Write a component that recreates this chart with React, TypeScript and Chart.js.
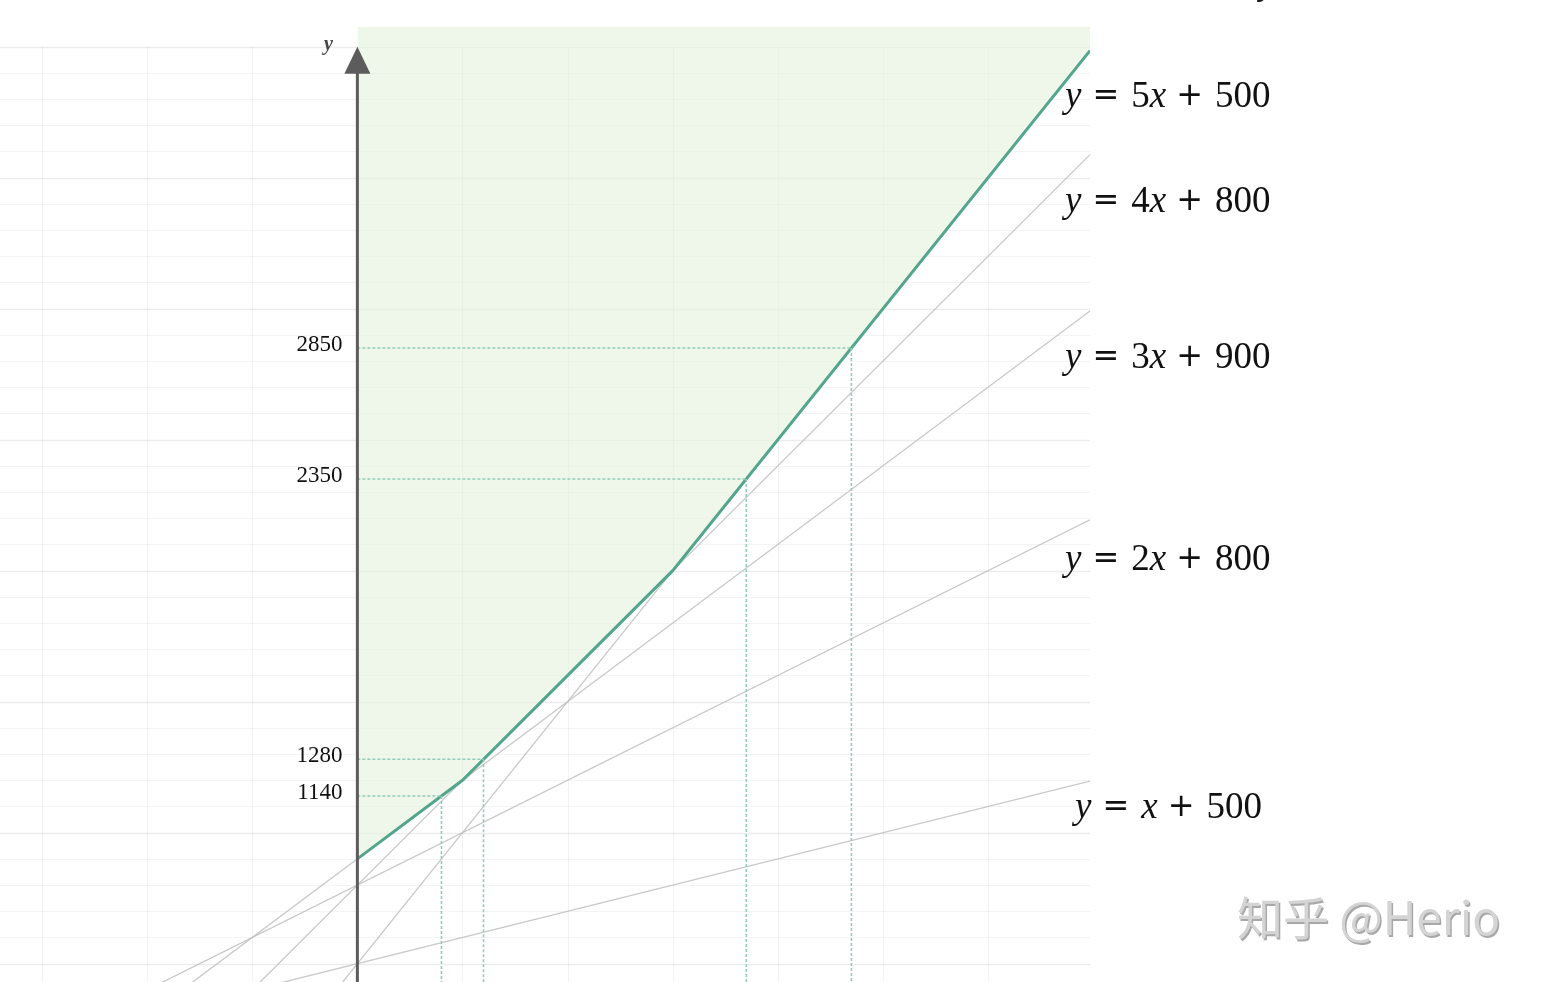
import React, { useEffect, useRef } from "react";
import { Chart, registerables } from "chart.js";

Chart.register(...registerables);

// ---- data ----
const X_MIN = -340;
const X_MAX = 697;
const Y_MIN = 430;
const Y_MAX = 4075;

const slopes = [5, 4, 3, 2, 1];
const intercepts = [500, 800, 900, 800, 500];
const lineLabels = ["5x", "4x", "3x", "2x", "x"];
const labelConsts = ["500", "800", "900", "800", "500"];

const envelopeX = [0, 100, 300, 697];
const envelopeY = [900, 1200, 2000, 3985];

const markX = [80, 120, 370, 470];
const markY = [1140, 1280, 2350, 2850];
const tickLabels = ["1140", "1280", "2350", "2850"];

const xGrid = [-300, -200, -100, 0, 100, 200, 300, 400, 500, 600];
const yGrid = [
  500, 600, 700, 800, 900, 1000, 1100, 1200, 1300, 1400, 1500, 1600, 1700, 1800, 1900, 2000,
  2100, 2200, 2300, 2400, 2500, 2600, 2700, 2800, 2900, 3000, 3100, 3200, 3300, 3400, 3500,
  3600, 3700, 3800, 3900, 4000,
];
const yGridTop = 4000;

// label vertical centres (pixel rows in the 982-tall picture) and left edges
const labelRows = [97, 202, 358, 560, 808];
const labelLefts = [1065, 1065, 1065, 1065, 1075];

const TEAL = "#53a68c";
const GRAY = "rgba(190,190,190,0.85)";
const REF = "#93cdb8";

const gridPlugin = {
  id: "bgGrid",
  beforeDatasetsDraw(chart: any) {
    const { ctx, scales, chartArea } = chart;
    const xs = scales.x;
    const ys = scales.y;
    ctx.save();
    const top = ys.getPixelForValue(yGridTop);
    ctx.lineWidth = 1;
    for (const v of xGrid) {
      const px = Math.round(xs.getPixelForValue(v)) + 0.5;
      ctx.strokeStyle = "rgba(0,0,0,0.05)";
      ctx.beginPath();
      ctx.moveTo(px, top);
      ctx.lineTo(px, chartArea.bottom);
      ctx.stroke();
    }
    for (const v of yGrid) {
      const py = Math.round(ys.getPixelForValue(v)) + 0.5;
      ctx.strokeStyle = v % 500 === 0 ? "rgba(0,0,0,0.075)" : "rgba(0,0,0,0.045)";
      ctx.lineWidth = v % 500 === 0 ? 1.5 : 1;
      ctx.beginPath();
      ctx.moveTo(chartArea.left, py);
      ctx.lineTo(chartArea.right, py);
      ctx.stroke();
    }
    ctx.restore();
  },
};

function drawEq(ctx: CanvasRenderingContext2D, left: number, cy: number, coef: string, cst: string) {
  const size = 37;
  const it = `italic ${size}px "Liberation Serif", "DejaVu Serif", serif`;
  const rm = `${size}px "Liberation Serif", "DejaVu Serif", serif`;
  const op = `32px "DejaVu Sans", sans-serif`;
  ctx.textBaseline = "middle";
  ctx.fillStyle = "#111";
  let x = left;
  const put = (t: string, f: string, gap: number) => {
    ctx.font = f;
    ctx.fillText(t, x, cy);
    x += ctx.measureText(t).width + gap;
  };
  put("y", it, 11);
  put("=", op, 12);
  const num = coef.replace("x", "");
  if (num) put(num, rm, 0);
  put("x", it, 10);
  put("+", op, 12);
  put(cst, rm, 0);
}

const overlayPlugin = {
  id: "overlay",
  afterDatasetsDraw(chart: any) {
    const { ctx, scales, chartArea } = chart;
    const xs = scales.x;
    const ys = scales.y;
    ctx.save();
    // y axis with arrow
    const ax = xs.getPixelForValue(0);
    const tip = ys.getPixelForValue(yGridTop);
    ctx.strokeStyle = "#5c5c5c";
    ctx.fillStyle = "#5c5c5c";
    ctx.lineWidth = 3;
    ctx.beginPath();
    ctx.moveTo(ax, chartArea.bottom);
    ctx.lineTo(ax, tip + 20);
    ctx.stroke();
    ctx.beginPath();
    ctx.moveTo(ax, tip);
    ctx.lineTo(ax - 13, tip + 27);
    ctx.lineTo(ax + 13, tip + 27);
    ctx.closePath();
    ctx.fill();
    // axis name
    ctx.font = 'italic bold 20px "Liberation Serif", "DejaVu Serif", serif';
    ctx.fillStyle = "#444";
    ctx.textAlign = "center";
    ctx.textBaseline = "middle";
    ctx.fillText("y", ax - 29, tip - 2);
    // tick labels
    ctx.font = '23px "Liberation Serif", "DejaVu Serif", serif';
    ctx.fillStyle = "#111";
    ctx.textAlign = "right";
    for (let i = 0; i < markY.length; i++) {
      ctx.fillText(tickLabels[i], ax - 15, ys.getPixelForValue(markY[i]) - 3);
    }
    // equation labels
    ctx.textAlign = "left";
    for (let i = 0; i < slopes.length; i++) {
      drawEq(ctx, labelLefts[i], labelRows[i], lineLabels[i], labelConsts[i]);
    }
    // clipped glyph at the very top
    ctx.font = 'italic 37px "Liberation Serif", "DejaVu Serif", serif';
    ctx.textBaseline = "alphabetic";
    ctx.fillStyle = "#1a1a1a";
    ctx.fillText("y", 1260, -6);
    // watermark
    ctx.font = '46px "Noto Sans CJK SC", "Noto Sans", sans-serif';
    ctx.textAlign = "left";
    ctx.textBaseline = "middle";
    ctx.shadowColor = "rgba(110,110,110,0.6)";
    ctx.shadowOffsetX = 1.5;
    ctx.shadowOffsetY = 1.5;
    ctx.shadowBlur = 0;
    ctx.fillStyle = "rgba(212,212,212,1)";
    ctx.fillText("知乎 @Herio", 1237, 918);
    ctx.restore();
  },
};

export default function App() {
  const ref = useRef<HTMLCanvasElement | null>(null);

  useEffect(() => {
    document.body.style.margin = "0";
    const canvas = ref.current;
    if (!canvas) return;

    const datasets: any[] = [];

    // shaded feasible region (above the upper envelope)
    datasets.push({
      label: "envelope",
      data: envelopeX.map((x, i) => ({ x, y: envelopeY[i] })),
      borderColor: TEAL,
      borderWidth: 3,
      backgroundColor: "rgba(226,242,220,0.6)",
      fill: "end",
      pointRadius: 0,
      tension: 0,
      order: 0,
    });

    // the five straight lines
    for (let i = 0; i < slopes.length; i++) {
      datasets.push({
        label: `y = ${lineLabels[i]} + ${labelConsts[i]}`,
        data: [X_MIN, X_MAX].map((x) => ({ x, y: slopes[i] * x + intercepts[i] })),
        borderColor: GRAY,
        borderWidth: 1.3,
        pointRadius: 0,
        fill: false,
        order: 2,
      });
    }

    // dotted reference lines
    for (let i = 0; i < markX.length; i++) {
      datasets.push({
        label: `h${i}`,
        data: [
          { x: 0, y: markY[i] },
          { x: markX[i], y: markY[i] },
        ],
        borderColor: REF,
        borderWidth: 1.6,
        borderDash: [3, 2],
        pointRadius: 0,
        fill: false,
        order: -1,
      });
      datasets.push({
        label: `v${i}`,
        data: [
          { x: markX[i], y: markY[i] },
          { x: markX[i], y: Y_MIN },
        ],
        borderColor: REF,
        borderWidth: 1.6,
        borderDash: [3, 2],
        pointRadius: 0,
        fill: false,
        order: -1,
      });
    }

    const chart = new Chart(canvas, {
      type: "line",
      data: { datasets },
      options: {
        animation: false,
        responsive: false,
        devicePixelRatio: 1,
        parsing: false as any,
        layout: { padding: { left: 0, right: 456, top: 27, bottom: 0 } },
        plugins: { legend: { display: false }, tooltip: { enabled: false } },
        events: [],
        scales: {
          x: { type: "linear", min: X_MIN, max: X_MAX, display: false },
          y: { type: "linear", min: Y_MIN, max: Y_MAX, display: false },
        },
      },
      plugins: [gridPlugin, overlayPlugin],
    });
    return () => chart.destroy();
  }, []);

  return (
    <div style={{ position: "absolute", left: 0, top: 0, width: 1546, height: 982, background: "#fff" }}>
      <canvas ref={ref} width={1546} height={982} style={{ display: "block" }} />
    </div>
  );
}
